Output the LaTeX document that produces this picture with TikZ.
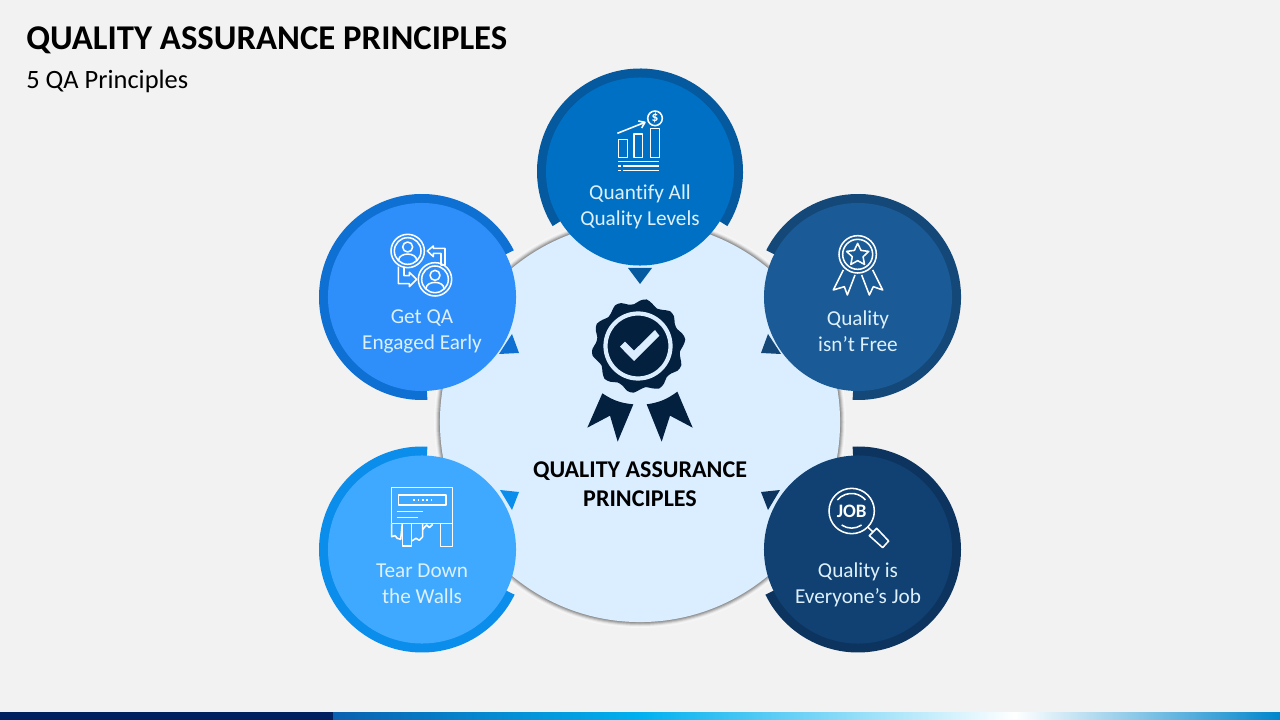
\documentclass[tikz,border=0pt]{standalone}
\usepackage{fontspec}
\setmainfont{Carlito}[Ligatures=NoCommon]
\usetikzlibrary{shapes.geometric,positioning,calc}
\definecolor{pagebg}{HTML}{F2F2F2}
\definecolor{hubfill}{HTML}{DAEEFF}
\definecolor{badgeink}{HTML}{04203F}
\definecolor{labelink}{HTML}{DDF0FB}
\definecolor{footernavy}{HTML}{002060}
\definecolor{footerblue}{HTML}{0A60B0}
\definecolor{footersky}{HTML}{00B0F0}
\definecolor{footerend}{HTML}{0085CC}
\definecolor{quantifydisc}{HTML}{0070C4}
\definecolor{quantifyring}{HTML}{05599E}
\definecolor{engagedisc}{HTML}{2E8EFA}
\definecolor{engagering}{HTML}{0E70D2}
\definecolor{freedisc}{HTML}{1A5A96}
\definecolor{freering}{HTML}{134879}
\definecolor{wallsdisc}{HTML}{3FA9FF}
\definecolor{wallsring}{HTML}{0A8DEB}
\definecolor{jobdisc}{HTML}{104172}
\definecolor{jobring}{HTML}{0D345F}
\tikzset{
  disc/.style={circle,inner sep=0pt,minimum size=4.7cm},
  hub/.style={circle,inner sep=0pt,minimum size=10cm,fill=hubfill},
  discname/.style={align=center,text=labelink,font=\fontsize{15.1}{18.5}\selectfont},
  iconline/.style={draw=white,line width=1.1pt,line join=round,fill=none},
  zoomed/.style 2 args={shift={(#1,#2)},x=0.008333cm,y=-0.008333cm},
}
\begin{document}
\begin{tikzpicture}[x=0.025cm,y=-0.025cm]
  \useasboundingbox (0,0) rectangle (1280,720);
  \fill[pagebg] (0,0) rectangle (1280,720);
  % footer band
  \fill[footernavy] (0,712) rectangle (333,720);
  \shade[left color=footerblue,right color=footersky] (333,712) rectangle (640,720);
  \shade[left color=footersky,right color=white] (640,712) rectangle (1015,720);
  \shade[left color=white,right color=footerend] (1015,712) rectangle (1280,720);

  \node[anchor=base west,inner sep=0pt,font=\fontsize{24.7}{28}\selectfont\bfseries] (title) at (26,49.5) {QUALITY ASSURANCE PRINCIPLES};
  \node[anchor=base west,inner sep=0pt,font=\fontsize{18.8}{22}\selectfont] (subtitle) at (26,88.5) {5 QA Principles};

  % soft edge round the hub
  \foreach \rad/\shadeval in {206/97,205/94,204/88,203/78,202/68,201/58}{
    \fill[black!\the\numexpr100-\shadeval\relax!white] (640,422) circle (\rad);
  }
  \node[hub] (hub) at (640,422) {};

  % pointers
  \fill[quantifyring] (628,268) -- (652,268) -- (640,284) -- cycle;
  \fill[engagering] (512,334) -- (519,353) -- (499,354) -- cycle;
  \fill[freering] (768,334) -- (761,353) -- (781,354) -- cycle;
  \fill[wallsring] (500,490) -- (519,492) -- (512,510) -- cycle;
  \fill[jobring] (780,490) -- (761,492) -- (768,510) -- cycle;

  \foreach \name/\px/\py/\from/\to in {quantify/640/171.5/32/-212,engage/422/297/-27/-273,free/858/297/-153/93,walls/422/549.5/-87/-334,job/858/549.5/-93/154}{
    \fill[\name ring] (\px,\py) -- ++(\from:103) arc[start angle=\from,end angle=\to,radius=103] -- cycle;
    \node[disc,fill=\name disc] (\name) at (\px,\py) {};
  }

  % centre badge
  \fill[badgeink] plot[domain=0:352,samples=45,smooth cycle] ({638.5+(44.5+2.8*cos(10*(\x+81)))*cos(\x)},{346+(44.5+2.8*cos(10*(\x+81)))*sin(\x)});
  \draw[hubfill,line width=3pt] (638,346) circle (32.5);
  \begin{scope}[zoomed={560}{285}]
    \fill[hubfill] (180,185) -- (195,170) -- (222,197) -- (285,135) -- (298,152) -- (222,228) -- cycle;
    \fill[badgeink] (127,325) to[bend right=14] (220,358) -- (173,470) -- (150,392) -- (82,428) -- cycle;
    \fill[badgeink] (352,320) -- (398,428) -- (330,392) -- (305,470) -- (260,358) to[bend right=14] cycle;
  \end{scope}

  % chart icon
  \begin{scope}[zoomed={530}{60}]
    \draw[iconline] (265,238) rectangle (292,292) (312,222) rectangle (338,292) (362,205) rectangle (388,292);
    \draw[iconline] (265,305) -- (388,305) (280,318) -- (388,318) (280,331) -- (388,331);
    \draw[iconline] (265,318) -- (272,318) (265,331) -- (272,331);
    \draw[iconline] (262,220) -- (345,187) (325,183) -- (345,187) -- (335,204);
    \draw[iconline] (375,175) circle (22);
    \node[text=white,inner sep=0pt,font=\fontsize{9.5}{9.5}\selectfont\bfseries] (coin) at (375,175) {\$};
  \end{scope}

  % swap icon
  \begin{scope}[zoomed={310}{185}]
    \foreach \cx/\cy in {293/198,375/283}{
      \draw[iconline] (\cx,\cy) circle (50) (\cx,\cy) circle (40) (\cx,\cy-12) circle (15);
      \draw[iconline] (\cx-27,\cy+28) .. controls (\cx-27,\cy+3) and (\cx+27,\cy+3) .. (\cx+27,\cy+28);
    }
    \draw[iconline] (352,198) -- (370,183) -- (370,190) -- (405,190) -- (405,240) -- (393,240) -- (393,205) -- (370,205) -- (370,215) -- cycle;
    \draw[iconline] (265,245) -- (265,296) -- (298,296) -- (298,305) -- (320,283) -- (298,262) -- (298,272) -- (282,272) -- (282,245);
  \end{scope}

  % rosette icon
  \begin{scope}[zoomed={750}{185}]
    \draw[iconline] (323,208) circle (56) (323,208) circle (45);
    \draw[iconline] plot[domain=0:324,samples=10] ({323+(mod(\x,72)==0?35:17)*sin(\x)},{210-(mod(\x,72)==0?35:17)*cos(\x)}) -- cycle;
    \draw[iconline] (280,255) -- (250,315) -- (283,305) -- (292,330) -- (315,270);
    \draw[iconline] (335,270) -- (358,330) -- (370,305) -- (398,315) -- (368,255);
  \end{scope}

  % torn poster icon
  \begin{scope}[zoomed={310}{435}]
    \draw[iconline] (245,265) -- (245,158) -- (428,158) -- (428,335) -- (392,335) -- (392,265);
    \draw[iconline] (245,265) -- (428,265);
    \draw[iconline] (265,180) rectangle (408,210);
    \draw[iconline,dotted] (310,195) -- (365,195);
    \draw[iconline] (262,230) -- (338,230) (262,247) -- (325,247);
    \draw[iconline] (245,265) -- (245,305) -- (255,302) -- (262,310) -- (272,313) -- (277,265);
    \draw[iconline] (277,265) -- (277,333) -- (305,333) -- (305,265);
    \draw[iconline] (305,318) -- (318,310) -- (328,316) -- (338,305) -- (338,265);
    \draw[iconline] (338,283) -- (350,270) -- (358,278) -- (368,268);
  \end{scope}

  % magnifier icon
  \begin{scope}[zoomed={750}{435}]
    \draw[iconline] (305,228) circle (68);
    \draw[iconline] (262,195) arc[start angle=-140,end angle=-40,radius=55];
    \draw[iconline] (275,270) arc[start angle=125,end angle=55,radius=52];
    \draw[iconline] (352,275) -- (368,290);
    \draw[iconline] (358,302) -- (380,280) -- (416,318) -- (398,338) -- cycle;
    \node[text=white,inner sep=0pt,font=\fontsize{13.5}{14}\selectfont\bfseries] (jobword) at (305,228) {JOB};
  \end{scope}

  \node[discname] (quantifytext) at (640,207) {Quantify All\\Quality Levels};
  \node[discname] (engagetext) at (422,331.5) {Get QA\\Engaged Early};
  \node[discname] (freetext) at (858,331) {Quality\\isn’t Free};
  \node[discname] (wallstext) at (422,584) {Tear Down\\the Walls};
  \node[discname] (jobtext) at (858,585) {Quality is\\Everyone’s Job};
  \node[align=center,font=\fontsize{17.1}{20.5}\selectfont\bfseries] (hubtext) at (640,484) {QUALITY ASSURANCE\\PRINCIPLES};
\end{tikzpicture}
\end{document}
